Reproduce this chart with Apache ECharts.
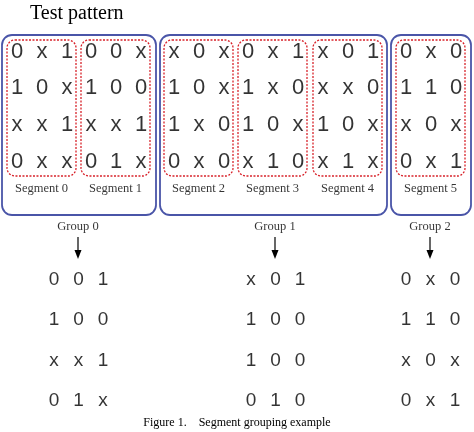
<!DOCTYPE html><html><head><meta charset="utf-8"><script src="https://cdn.jsdelivr.net/npm/echarts@6/dist/echarts.min.js"></script>
<style>html,body{margin:0;background:#fff}#c{width:474px;height:432px}</style></head><body><div id="c"></div><script>
const segments = [
 ["0x1","10x","xx1","0xx"],
 ["00x","100","xx1","01x"],
 ["x0x","10x","1x0","0x0"],
 ["0x1","1x0","10x","x10"],
 ["x01","xx0","10x","x1x"],
 ["0x0","110","x0x","0x1"]
];
const segmentLabels = ["Segment 0","Segment 1","Segment 2","Segment 3","Segment 4","Segment 5"];
const groups = [
 ["001","100","xx1","01x"],
 ["x01","100","100","010"],
 ["0x0","110","x0x","0x1"]
];
const groupLabels = ["Group 0","Group 1","Group 2"];
const title = "Test pattern";
const caption = "Figure 1.    Segment grouping example";

const segLeft=[7,81,164,238,313,396], segW=69, segTop=40, segH=136;
const segRowY=[52,88,125,162];
const grpBox=[[2,156],[160,387],[391,471]];
const grpX=[78,275,430];
const resRowY=[280,320,361,401];

const topPts=[],botPts=[];
segments.forEach((s,i)=>s.forEach((row,r)=>[...row].forEach((ch,c)=>topPts.push([segLeft[i]+10+c*25,segRowY[r],ch]))));
groups.forEach((g,i)=>g.forEach((row,r)=>[...row].forEach((ch,c)=>botPts.push([grpX[i]-24+c*24.5,resRowY[r],ch]))));
const serifTxt=[];
segmentLabels.forEach((t,i)=>serifTxt.push([segLeft[i]+segW/2,189,t]));
groupLabels.forEach((t,i)=>serifTxt.push([grpX[i],227,t]));

const g=[];
grpBox.forEach(b=>g.push({type:'rect',shape:{x:b[0],y:35,width:b[1]-b[0],height:180,r:10},style:{fill:'none',stroke:'#4a55a8',lineWidth:1.8}}));
segLeft.forEach(x=>g.push({type:'rect',shape:{x:x,y:segTop,width:segW,height:segH,r:8},style:{fill:'none',stroke:'#d8222a',lineWidth:1.3,lineDash:[2,1.5]}}));
grpX.forEach(x=>{g.push({type:'line',shape:{x1:x,y1:237,x2:x,y2:252},style:{stroke:'#000',lineWidth:1.2}});
 g.push({type:'polygon',shape:{points:[[x-3.5,250],[x+3.5,250],[x,259]]},style:{fill:'#000'}});});
g.push({type:'text',style:{x:30,y:4,text:title,font:'20px "Liberation Serif"',fill:'#000'}});
g.push({type:'text',style:{x:237,y:417,text:caption,font:'12px "Liberation Serif"',fill:'#000',align:'center'}});

const lab=(font,size)=>({show:true,position:'inside',formatter:p=>p.value[2],fontFamily:font,fontSize:size,color:'#000'});
const chart=echarts.init(document.getElementById('c'));
chart.setOption({animation:false,
 grid:{left:0,right:0,top:0,bottom:0},
 xAxis:{type:'value',min:0,max:474,show:false},
 yAxis:{type:'value',min:0,max:432,inverse:true,show:false},
 series:[
  {type:'scatter',symbolSize:0,data:topPts,label:lab('Liberation Sans',22)},
  {type:'scatter',symbolSize:0,data:botPts,label:lab('Liberation Sans',19)},
  {type:'scatter',symbolSize:0,data:serifTxt,label:lab('Liberation Serif',12.5)}
 ],
 graphic:g});
</script></body></html>
